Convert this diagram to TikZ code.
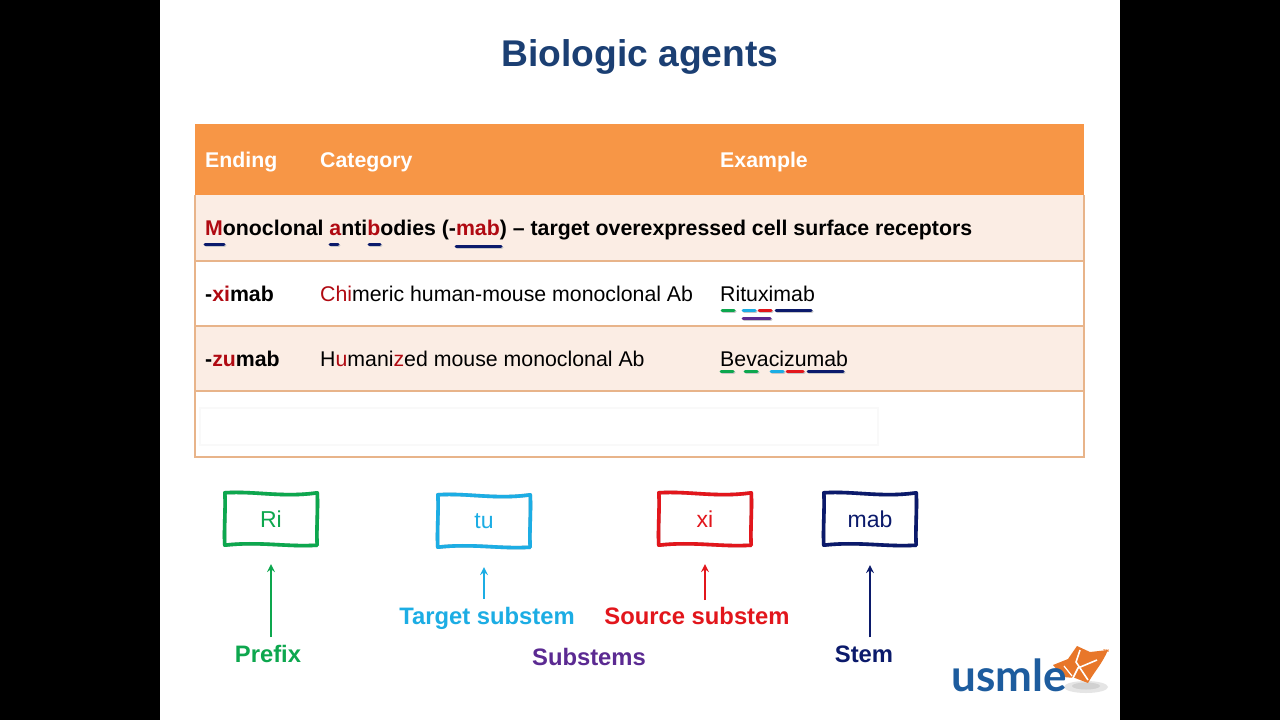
\documentclass[tikz,border=0pt]{standalone}
\usepackage{fontspec}
\setmainfont{Liberation Sans}
\newfontfamily\logofont{Lato}
\usetikzlibrary{arrows, calc}
\definecolor{colhead}{HTML}{F79646}
\definecolor{coltint}{HTML}{FBEDE4}
\definecolor{colline}{HTML}{E8B48A}
\definecolor{coltitle}{HTML}{1B3F73}
\definecolor{colred}{HTML}{B00A12}
\definecolor{colgreen}{HTML}{0DA74E}
\definecolor{colcyan}{HTML}{1CADE4}
\definecolor{colbright}{HTML}{E2161C}
\definecolor{colnavy}{HTML}{0B1A6B}
\definecolor{colpurple}{HTML}{5B2A92}
\definecolor{collogo}{HTML}{1D5C9E}
\definecolor{colorange}{HTML}{E8772A}
\newcommand{\hl}[1]{\textcolor{colred}{#1}}
\tikzset{
	cell/.style={anchor=base west, inner sep=0pt, font=\fontsize{21.3}{25}\selectfont},
	headcell/.style={cell, text=white, font=\fontsize{21.3}{25}\selectfont\bfseries},
	boldcell/.style={cell, font=\fontsize{21.3}{25}\selectfont\bfseries},
	stemlabel/.style={inner sep=0pt, font=\fontsize{23.8}{28}\selectfont\bfseries},
	tagbox/.style={minimum width=92pt, minimum height=52pt, inner sep=0pt, font=\fontsize{23}{28}\selectfont},
	handline/.style={line width=3.6pt, line join=round, line cap=round},
	pointer/.style={->, >=stealth, line width=2.4pt},
	rowline/.style={colline, line width=1.5pt},
	mark line/.style={line width=3pt, line cap=round}
}
\begin{document}
\begin{tikzpicture}[x=1pt, y=-1pt]
	\useasboundingbox (0,0) rectangle (1280,720);
	\fill[black] (0,0) rectangle (1280,720);
	\fill[white] (160,0) rectangle (1120,720);
	\node[inner sep=0pt, text=coltitle, font=\fontsize{37.2}{44}\selectfont\bfseries] (title) at (640,57) {Biologic agents};

	% table
	\fill[colhead] (195,124) rectangle (1084,195);
	\fill[coltint] (195,195) rectangle (1084,261);
	\fill[coltint] (195,326) rectangle (1084,391);
	\foreach \y in {261,326,391}
		\draw[rowline] (195,\y) -- (1084,\y);
	\draw[rowline] (195,195) -- (195,457) -- (1084,457) -- (1084,195);
	\draw[black!2.5, line width=1.2pt] (200,408) rectangle (878,445);

	\node[headcell] (headend) at (205,167) {Ending};
	\node[headcell] (headcat) at (320,167) {Category};
	\node[headcell] (headex) at (720,167) {Example};
	\node[boldcell] (mabrow) at (205,235) {\hl{M}onoclonal \hl{a}nti\hl{b}odies (-\hl{mab}) – target overexpressed cell surface receptors};
	\node[boldcell] (xiend) at (205,301) {-\hl{xi}mab};
	\node[cell] (xicat) at (320,301) {\hl{Chi}meric human-mouse monoclonal Ab};
	\node[cell] (xiex) at (720,301) {Rituximab};
	\node[boldcell] (zuend) at (205,366) {-\hl{zu}mab};
	\node[cell] (zucat) at (320,366) {H\hl{u}mani\hl{z}ed mouse monoclonal Ab};
	\node[cell] (zuex) at (720,366) {Bevacizumab};

	% underlines
	\foreach \xa/\xb/\ya/\col in {205/224/244/colnavy, 330/338/244/colnavy, 369/380/244/colnavy, 456/501/246/colnavy,
		722/734/310/colgreen, 743/755/310/colcyan, 759/771/310/colbright, 776/811/310/colnavy, 743/770/318/colpurple,
		721/733/371/colgreen, 745/757/371/colgreen, 771/783/371/colcyan, 787/803/371/colbright, 808/843/371/colnavy} {
		\draw[mark line, black!22] (\xa+1,\ya+1.5) -- (\xb+1,\ya+1.5);
		\draw[mark line, \col] (\xa,\ya) -- (\xb,\ya);
	}

	% stem boxes
	\node[tagbox, text=colgreen] (ri) at (271,519) {Ri};
	\node[tagbox, text=colcyan] (tu) at (484,521) {tu};
	\node[tagbox, text=colbright] (xi) at (705,519) {xi};
	\node[tagbox, text=colnavy] (mab) at (870,519) {mab};
	\foreach \nm/\col in {ri/colgreen, tu/colcyan, xi/colbright, mab/colnavy} {
		\foreach \sh/\tint in {1.5/black!25, 0/\col} {
			\draw[handline, \tint, shift={(\sh,\sh)}] (\nm.north west)
				.. controls ($(\nm.north west)+(30,-2)$) and ($(\nm.north east)+(-35,5)$) .. (\nm.north east)
				.. controls ($(\nm.north east)+(1,15)$) and ($(\nm.south east)+(-1,-15)$) .. (\nm.south east)
				.. controls ($(\nm.south east)+(-30,2)$) and ($(\nm.south west)+(35,-4)$) .. (\nm.south west)
				.. controls ($(\nm.south west)+(-1,-15)$) and ($(\nm.north west)+(1,15)$) .. cycle;
		}
	}

	% labels and arrows
	\node[stemlabel, text=colgreen] (prefix) at (268,654) {Prefix};
	\node[stemlabel, text=colcyan] (target) at (487,618) {Target substem};
	\node[stemlabel, text=colbright] (source) at (697,616) {Source substem};
	\node[stemlabel, text=colnavy] (stem) at (864,654) {Stem};
	\node[stemlabel, text=colpurple] (substems) at (589,657) {Substems};
	\draw[pointer, colgreen, shorten >=19pt, shorten <=8pt] (prefix.north -| ri) -- (ri.south);
	\draw[pointer, colcyan, shorten >=20pt, shorten <=8pt] (target.north -| tu) -- (tu.south);
	\draw[pointer, colbright, shorten >=19pt, shorten <=7pt] (source.north -| xi) -- (xi.south);
	\draw[pointer, colnavy, shorten >=20pt, shorten <=8pt] (stem.north -| mab) -- (mab.south);

	% logo
	\fill[black!10] (1086,687) ellipse (22 and 6);
	\fill[black!18] (1086,686) ellipse (14 and 3.5);
	\fill[colorange] (1053,665) -- (1068,659) -- (1077,646) -- (1090,652) -- (1108,650)
		.. controls (1102,664) and (1094,672) .. (1088,683) -- (1075,678) -- (1063,677) -- cycle;
	\draw[white, line width=1.6pt] (1080,650) -- (1076,662) -- (1088,680);
	\draw[white, line width=1.6pt] (1072,680) -- (1078,668) -- (1097,660);
	\draw[white, line width=1.2pt] (1064,666) -- (1072,676);
	\node[inner sep=0pt, text=collogo, anchor=base, font=\logofont\bfseries\fontsize{44}{48}\selectfont] (logo) at (1009,691) {usmle};
	\node[inner sep=0pt, text=colorange, font=\fontsize{4}{5}\selectfont\bfseries] (tm) at (1106,651) {TM};
\end{tikzpicture}
\end{document}
